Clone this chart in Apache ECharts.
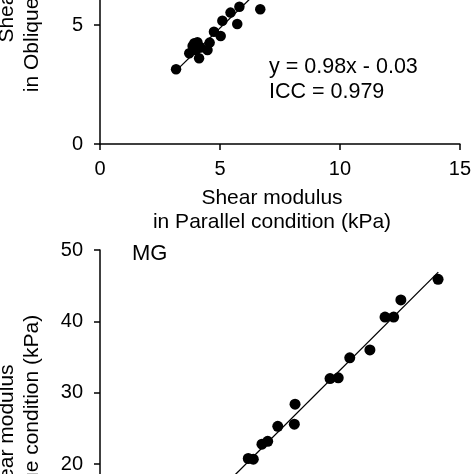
<!DOCTYPE html>
<html>
<head>
<meta charset="utf-8">
<script src="https://cdn.jsdelivr.net/npm/echarts@6/dist/echarts.min.js"></script>
<style>
html,body{margin:0;padding:0;overflow:hidden;background:#fff;width:474px;height:474px;}
#c{position:absolute;left:0;top:-260px;width:474px;height:1000px;}
</style>
</head>
<body>
<div id="c"></div>
<script>
// Top panel (visible part): parallel vs oblique shear modulus (kPa)
const topParallel = [3.17, 3.72, 3.86, 3.93, 4.06, 4.13, 4.00, 4.20, 4.48, 4.57, 4.75, 5.03, 5.10, 5.44, 5.72, 5.81, 6.68];
const topOblique  = [3.14, 3.81, 4.12, 4.23, 4.28, 3.60, 3.95, 4.05, 3.95, 4.26, 4.72, 4.54, 5.18, 5.52, 5.04, 5.77, 5.66];
const topFitX = [3.1, 9.0];
const topFitY = [3.01, 8.79];
const topTicks = [0, 5, 10, 15];
const topEquation = "y = 0.98x - 0.03";
const topICC = "ICC = 0.979";

// Bottom panel (MG, visible part)
const mgParallel = [20.6, 21.3, 22.5, 23.3, 24.7, 27.0, 27.1, 31.96, 33.1, 34.7, 37.5, 39.6, 40.8, 41.8, 46.97];
const mgOblique  = [20.8, 20.7, 22.8, 23.2, 25.3, 25.6, 28.4, 32.0, 32.1, 34.9, 36.0, 40.6, 40.6, 43.0, 45.9];
const mgFitX = [10, 47.0];
const mgFitY = [9.7, 46.9];
const mgTicks = [0, 10, 20, 30, 40, 50];

const xName = ["Shear modulus", "in Parallel condition (kPa)"];
const yName = ["Shear modulus", "in Oblique condition (kPa)"];
const panelLabel = "MG";

const OFF = 260; // container offset
const FONT = "'Liberation Sans', Arial, sans-serif";

function axisCommon(min, max, interval, isY) {
  return {
    min: min, max: max, interval: interval,
    axisLine: {show: true, onZero: false, lineStyle: {color: '#000', width: 1.5}},
    axisTick: {show: true, inside: false, length: 6, lineStyle: {color: '#000', width: 1.5}},
    axisLabel: {color: '#000', fontSize: 20, fontFamily: FONT, margin: isY ? 17 : 15},
    splitLine: {show: false}
  };
}

const chart = echarts.init(document.getElementById('c'), null, {renderer: 'canvas'});
const pts = (xs, ys) => xs.map((x, i) => [x, ys[i]]);
const txt = (x, y, text, size, align, rot) => ({
  type: 'text', x: x, y: y + OFF, rotation: rot || 0,
  style: {text: text, font: size + 'px ' + FONT, fill: '#000', align: align, verticalAlign: 'middle'}
});

chart.setOption({
  animation: false,
  backgroundColor: '#fff',
  grid: [
    {left: 100, top: 47, width: 363, height: 357},
    {left: 100, top: 510, width: 363, height: 357}
  ],
  xAxis: [
    Object.assign({type: 'value', gridIndex: 0}, axisCommon(topTicks[0], topTicks[topTicks.length-1], 5, false)),
    Object.assign({type: 'value', gridIndex: 1}, axisCommon(mgTicks[0], mgTicks[mgTicks.length-1], 10, false))
  ],
  yAxis: [
    Object.assign({type: 'value', gridIndex: 0}, axisCommon(topTicks[0], topTicks[topTicks.length-1], 5, true)),
    Object.assign({type: 'value', gridIndex: 1}, axisCommon(mgTicks[0], mgTicks[mgTicks.length-1], 10, true))
  ],
  series: [
    {type: 'line', xAxisIndex: 0, yAxisIndex: 0, data: pts(topFitX, topFitY), symbol: 'none',
     lineStyle: {color: '#000', width: 1.3}, z: 1},
    {type: 'scatter', xAxisIndex: 0, yAxisIndex: 0, data: pts(topParallel, topOblique),
     symbol: 'circle', symbolSize: 10.5, itemStyle: {color: '#000', opacity: 1}, z: 2},
    {type: 'line', xAxisIndex: 1, yAxisIndex: 1, data: pts(mgFitX, mgFitY), symbol: 'none',
     lineStyle: {color: '#000', width: 1.3}, z: 1},
    {type: 'scatter', xAxisIndex: 1, yAxisIndex: 1, data: pts(mgParallel, mgOblique),
     symbol: 'circle', symbolSize: 11, itemStyle: {color: '#000', opacity: 1}, z: 2}
  ],
  graphic: [
    txt(272, 198, xName[0], 21, 'center'),
    txt(272, 222, xName[1], 21, 'center'),
    txt(7.5, -28, yName[0], 21, 'center', Math.PI / 2),
    txt(32, -28, yName[1], 21, 'center', Math.PI / 2),
    txt(7.5, 435, yName[0], 21, 'center', Math.PI / 2),
    txt(32, 435, yName[1], 21, 'center', Math.PI / 2),
    txt(269, 67, topEquation, 21.5, 'left'),
    txt(269, 92, topICC, 21.5, 'left'),
    txt(132, 254, panelLabel, 22, 'left')
  ]
});
</script>
</body>
</html>
